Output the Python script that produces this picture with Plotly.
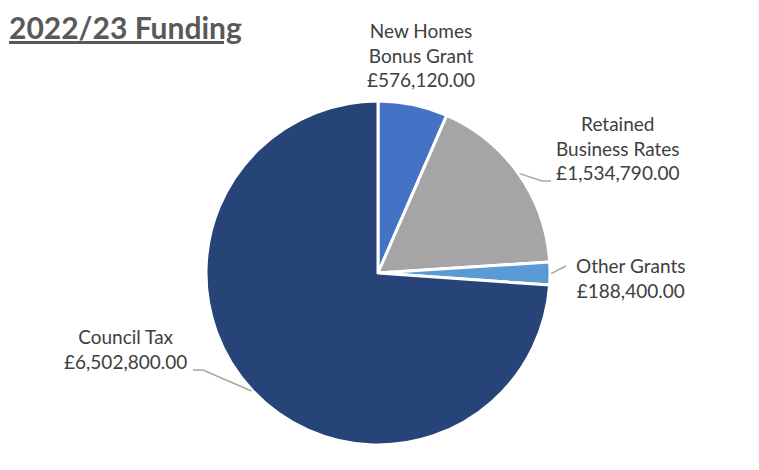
import math
import plotly.graph_objects as go

W, H = 759, 470
OFF = 8  # page body margin shifts the figure by this many pixels

labels = ["New Homes<br>Bonus Grant", "Retained<br>Business Rates", "Other Grants", "Council Tax"]
values = [576120.00, 1534790.00, 188400.00, 6502800.00]
colors = ["#4472C4", "#A5A5A5", "#5B9BD5", "#264478"]

# pie placement in screen pixels
cx, cy, r = 378, 273, 172


def px(x, y):
    return (x - OFF) / W, 1 - (y - OFF) / H


def edge_point(i, rr=r):
    total = sum(values)
    start = sum(values[:i]) / total * 360
    mid = math.radians(start + values[i] / total * 180)
    return cx + rr * math.sin(mid), cy - rr * math.cos(mid)


x0, y0 = px(cx - r, cy + r)
x1, y1 = px(cx + r, cy - r)

fig = go.Figure(go.Pie(
    labels=labels,
    values=values,
    sort=False,
    direction="clockwise",
    rotation=0,
    marker=dict(colors=colors, line=dict(color="white", width=3)),
    textinfo="none",
    hoverinfo="label+value",
    domain=dict(x=[x0, x1], y=[y0, y1]),
    showlegend=False,
))

# label anchor positions (pixels) and elbow points for leader lines
label_pos = [(421, 55), (618, 148), (630, 278), (125, 349)]
elbows = [None, [(542, 181), (551, 181)], [(566, 266)], [(203, 370), (193, 370)]]

font = dict(family="Lato, Open Sans, sans-serif", size=19, color="#404040")
for i, (lx, ly) in enumerate(label_pos):
    x, y = px(lx, ly)
    fig.add_annotation(
        x=x, y=y, xref="paper", yref="paper",
        text=f"{labels[i]}<br>£{values[i]:,.2f}",
        showarrow=False, font=font, align="center",
        xanchor="center", yanchor="middle",
    )
    if elbows[i]:
        pts = [edge_point(i, r + 1)] + elbows[i]
        path = "M " + " L ".join(f"{px(a, b)[0]},{px(a, b)[1]}" for a, b in pts)
        fig.add_shape(type="path", path=path, xref="paper", yref="paper",
                      line=dict(color="#A6A6A6", width=1.5))

fig.add_annotation(
    x=0, y=1, xref="paper", yref="paper",
    text="<b><u>2022/23 Funding</u></b>",
    showarrow=False, xanchor="left", yanchor="top", borderpad=0,
    font=dict(family="Lato, Open Sans, sans-serif", size=30, color="#595959"),
)

fig.update_layout(
    width=W, height=H,
    margin=dict(l=0, r=0, t=0, b=0),
    paper_bgcolor="white",
    plot_bgcolor="white",
)

fig.write_html("out.html")
